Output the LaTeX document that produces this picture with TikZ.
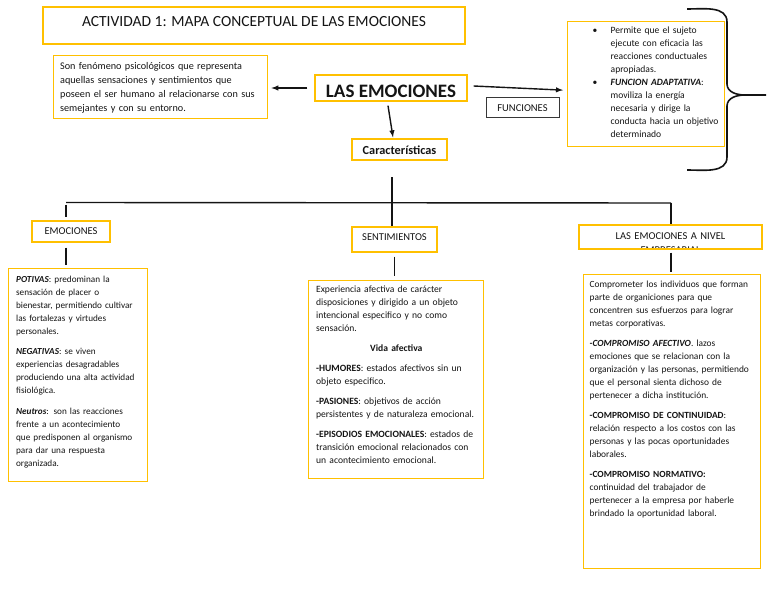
\documentclass[tikz,border=0pt]{standalone}
\usepackage{fontspec}
\setmainfont{Carlito}
\definecolor{dorado}{HTML}{FFC000}
\definecolor{tinta}{HTML}{141414}
\newcommand{\sangria}{\hspace*{43pt}}
\newcommand{\vineta}{\hspace*{25pt}\makebox[18pt][l]{\textbullet}}

\begin{document}
\begin{tikzpicture}[x=1pt,y=-1pt,
  caja/.style={draw=dorado,line width=1.3pt,inner sep=0pt,text=tinta},
  etiqueta/.style={caja,font=\fontsize{10.5}{13}\selectfont},
  bloque/.style={caja,anchor=north west,align=left,inner xsep=7.5pt,inner ysep=0pt},
  linea/.style={line width=1.4pt,tinta},
  flecha/.style={linea,-latex}]
\useasboundingbox (0,0) rectangle (768,594);

\node[caja,minimum width=422,text height=20pt,text depth=17pt,font=\fontsize{15.5}{18}\selectfont] (titulo) at (254,25.5) {ACTIVIDAD 1: MAPA CONCEPTUAL DE LAS EMOCIONES};

\node[bloque,inner xsep=6.5pt,text width=201pt,text height=13.5pt,text depth=49.5pt,font=\fontsize{10.2}{14.2}\selectfont] (definicion) at (53,55)
{Son fenómeno psicológicos que representa\\aquellas sensaciones y sentimientos que\\poseen el ser humano al relacionarse con sus\\semejantes y con su entorno.};

\node[caja,minimum width=152,text height=22.3pt,text depth=3.7pt,font=\bfseries\fontsize{19}{22}\selectfont] (principal) at (391,88) {LAS EMOCIONES};

\node[caja,draw=tinta!85,line width=1pt,minimum width=73,text height=14pt,text depth=6pt,font=\fontsize{10.5}{13}\selectfont] (etiqfunc) at (522.5,107) {FUNCIONES};

\node[bloque,inner xsep=0pt,text width=157pt,text height=11.5pt,text depth=113.5pt,font=\fontsize{9.6}{13}\selectfont] (funcion) at (567,21)
{\vineta Permite que el sujeto\\\sangria ejecute con eficacia las\\\sangria reacciones conductuales\\\sangria apropiadas.\\
\vineta\textbf{\textit{FUNCION ADAPTATIVA}}:\\\sangria moviliza la energía\\\sangria necesaria y dirige la\\\sangria conducta hacia un objetivo\\\sangria determinado};

\node[caja,minimum width=95,text height=15pt,text depth=6pt,font=\bfseries\fontsize{12.3}{14}\selectfont] (caracteristicas) at (399.5,149.5) {Características};

\node[etiqueta,minimum width=78,text height=13.5pt,text depth=7.5pt] (emociones) at (71,231.5) {EMOCIONES};
\node[etiqueta,minimum width=85,text height=13pt,text depth=12pt] (sentimientos) at (394.5,239.5) {SENTIMIENTOS};
\node[caja,minimum width=183,minimum height=24,path picture={
  \node[draw=none,anchor=north,minimum width=0pt,minimum height=0pt,text width=183pt,align=center,inner sep=0pt,text height=13.5pt,text depth=0pt,text=tinta,font=\fontsize{10.5}{14.5}\selectfont] (nivelTexto) at (path picture bounding box.north) {LAS EMOCIONES A NIVEL\\EMPRESARIAL};}] (nivel) at (670.5,237) {};

\node[bloque,text width=124pt,text height=13.5pt,text depth=199.5pt,font=\fontsize{9.2}{13}\selectfont] (tipos) at (8,268)
{\textbf{\textit{POTIVAS}}: predominan la\\sensación de placer o\\bienestar, permitiendo cultivar\\las fortalezas y virtudes\\personales.\\[7.5pt]
\textbf{\textit{NEGATIVAS}}: se viven\\experiencias desagradables\\produciendo una alta actividad\\fisiológica.\\[7.5pt]
\textbf{\textit{Neutros}}: son las reacciones\\frente a un acontecimiento\\que predisponen al organismo\\para dar una respuesta\\organizada.};

\node[bloque,text width=160pt,text height=11.5pt,text depth=186.5pt,font=\fontsize{9.6}{13}\selectfont] (vida) at (308,280)
{Experiencia afectiva de carácter\\disposiciones y dirigido a un objeto\\intencional especifico y no como\\sensación.\\[7.5pt]
\hspace*{54pt}\textbf{Vida afectiva}\\[7pt]
\textbf{-HUMORES}: estados afectivos sin un\\objeto especifico.\\[7pt]
\textbf{-PASIONES}: objetivos de acción\\persistentes y de naturaleza emocional.\\[7pt]
\textbf{-EPISODIOS EMOCIONALES}: estados de\\transición emocional relacionados con\\un acontecimiento emocional.};

\node[bloque,inner xsep=6pt,text width=165pt,text height=13pt,text depth=281pt,font=\fontsize{9.4}{13}\selectfont] (compromiso) at (583,274)
{Comprometer los individuos que forman\\parte de organiciones para que\\concentren sus esfuerzos para lograr\\metas corporativas.\\[6.5pt]
\textbf{\textit{-COMPROMISO AFECTIVO}}. lazos\\emociones que se relacionan con la\\organización y las personas, permitiendo\\que el personal sienta dichoso de\\pertenecer a dicha institución.\\[7pt]
\textbf{-COMPROMISO DE CONTINUIDAD}:\\relación respecto a los costos con las\\personas y las pocas oportunidades\\laborales.\\[7pt]
\textbf{-COMPROMISO NORMATIVO:}\\continuidad del trabajador de\\pertenecer a la empresa por haberle\\brindado la oportunidad laboral.};

\coordinate (izq) at (66,202.5);
\coordinate (der) at (671,203);
\coordinate (centro) at (392,177);

\draw[linea] (izq) -- (der);
\draw[linea] (centro) -- (centro |- sentimientos.north);
\draw[linea] ([yshift=-2pt]izq) -- ([yshift=3pt]izq |- emociones.north);
\draw[linea] (der) -- (der |- nivel.north);
\draw[linea] ([yshift=-5pt]izq |- emociones.south) -- ([yshift=3pt]izq |- tipos.north);
\draw[linea] ([yshift=-4pt]sentimientos.south) -- ([yshift=4pt]sentimientos.south |- vida.north);
\draw[linea] ([yshift=-3pt]der |- nivel.south) -- ([yshift=2pt]der |- compromiso.north);

\draw[flecha,shorten <=7pt,shorten >=3pt] (principal.west) -- (principal.west -| definicion.east);
\draw[flecha] ([xshift=6pt,yshift=2pt]principal.east) -- ([xshift=-4pt,yshift=-6pt]funcion.west);
\draw[flecha] ([xshift=-3pt,yshift=-4pt]principal.south) -- ([xshift=-6.5pt,yshift=1pt]caracteristicas.north);

\draw[linea,line width=1.6pt] (687,9) to[out=0,in=90] (727,22) -- (727,84) to[out=-90,in=180] (745,95) -- (766,95);
\draw[linea,line width=1.6pt] (745,95) to[out=180,in=90] (727,106) -- (727,157) to[out=-90,in=0] (687,170);
\end{tikzpicture}
\end{document}
